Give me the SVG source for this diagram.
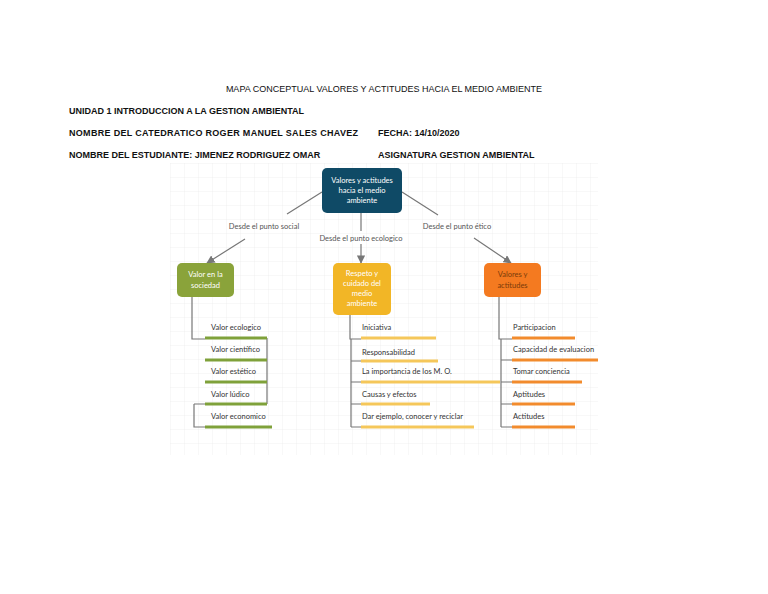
<svg xmlns="http://www.w3.org/2000/svg" width="768" height="594" viewBox="0 0 768 594">
<defs>
<pattern id="g" x="170" y="163" width="14" height="14" patternUnits="userSpaceOnUse"><path d="M0 0H14M0 0V14" stroke="#e6e6e6" stroke-width="0.6" fill="none"/></pattern>
<marker id="a" viewBox="0 0 10 10" refX="9" refY="5" markerWidth="7" markerHeight="7" orient="auto"><path d="M0 0L10 5L0 10z" fill="#777"/></marker>
<style>
.h{font-family:"Liberation Sans",Arial,sans-serif;font-size:9px;fill:#111}
.b{font-weight:bold}
.n{font-family:Lato,"Liberation Sans",sans-serif;font-size:7.5px;fill:#fff;text-anchor:middle}
.l{font-family:Lato,"Liberation Sans",sans-serif;font-size:7.5px;fill:#555;text-anchor:middle}
.t{font-family:Lato,"Liberation Sans",sans-serif;font-size:7.5px;fill:#333}
.c{stroke:#777;stroke-width:1.2;fill:none}
.gb{stroke:#7fa13a;stroke-width:3}
.yb{stroke:#f5c75a;stroke-width:3}
.ob{stroke:#f28b2d;stroke-width:3}
</style>
</defs>
<rect width="768" height="594" fill="#fff"/>
<rect x="170" y="163" width="428" height="292" fill="url(#g)"/>
<text class="h" x="384" y="92" text-anchor="middle">MAPA CONCEPTUAL VALORES Y ACTITUDES HACIA EL MEDIO AMBIENTE</text>
<text class="h b" x="69" y="114">UNIDAD 1 INTRODUCCION A LA GESTION AMBIENTAL</text>
<text class="h b" x="69" y="136" textLength="289">NOMBRE DEL CATEDRATICO ROGER MANUEL SALES CHAVEZ</text>
<text class="h b" x="378" y="136">FECHA: 14/10/2020</text>
<text class="h b" x="69" y="158">NOMBRE DEL ESTUDIANTE: JIMENEZ RODRIGUEZ OMAR</text>
<text class="h b" x="378" y="158">ASIGNATURA GESTION AMBIENTAL</text>
<g id="connectors">
<path class="c" d="M322 192L287 214M245 239L207 263" marker-end="url(#a)"/>
<path class="c" d="M361 213V231M361 244V263" marker-end="url(#a)"/>
<path class="c" d="M402 192L438 215M474 238L511 263" marker-end="url(#a)"/>
<text class="l" x="264" y="229">Desde el punto social</text>
<text class="l" x="361" y="241">Desde el punto ecologico</text>
<text class="l" x="457" y="229">Desde el punto ético</text>
<path class="c" d="M192 297V339H205M267 338V404M194 404V427H205M194 404H205"/>
<path class="c" d="M350 315V339H361M351 339V427M351 361H361M351 382H361M351 404H361M351 427H361"/>
<path class="c" d="M499 297V339H512M501 339V427M501 360H512M501 382H512M501 404H512M501 427H512"/>
</g>
<g id="n0"><rect x="322" y="168" width="80" height="45" rx="5" fill="#0f4a66"/><text class="n" x="362" y="183">Valores y actitudes</text><text class="n" x="362" y="193">hacia el medio</text><text class="n" x="362" y="203">ambiente</text></g>
<g id="n1"><rect x="177" y="263" width="57" height="34" rx="5" fill="#8aa33a"/><text class="n" x="205.5" y="277">Valor en la</text><text class="n" x="205.5" y="288">sociedad</text></g>
<g id="n2"><rect x="333" y="263" width="58" height="52" rx="5" fill="#f2b626"/><text class="n" x="362" y="276">Respeto y</text><text class="n" x="362" y="286">cuidado del</text><text class="n" x="362" y="296">medio</text><text class="n" x="362" y="306">ambiente</text></g>
<g id="n3"><rect x="484" y="263" width="57" height="34" rx="5" fill="#f47a20"/><text class="n" x="512.5" y="277" style="fill:#7a3a0a">Valores y</text><text class="n" x="512.5" y="288" style="fill:#7a3a0a">actitudes</text></g>
<g id="green">
<text class="t" x="211" y="330">Valor ecologico</text><line class="gb" x1="205" y1="338" x2="267" y2="338"/>
<text class="t" x="211" y="352">Valor científico</text><line class="gb" x1="205" y1="360" x2="267" y2="360"/>
<text class="t" x="211" y="374">Valor estético</text><line class="gb" x1="205" y1="382" x2="267" y2="382"/>
<text class="t" x="211" y="397">Valor lúdico</text><line class="gb" x1="205" y1="404" x2="267" y2="404"/>
<text class="t" x="211" y="419">Valor economico</text><line class="gb" x1="205" y1="427" x2="272" y2="427"/>
</g>
<g id="yellow">
<text class="t" x="362" y="330">Iniciativa</text><line class="yb" x1="361" y1="338" x2="436" y2="338"/>
<text class="t" x="362" y="355">Responsabilidad</text><line class="yb" x1="361" y1="361" x2="438" y2="361"/>
<text class="t" x="362" y="374">La importancia de los M. O.</text><line class="yb" x1="361" y1="382" x2="500" y2="382"/>
<text class="t" x="362" y="397">Causas y efectos</text><line class="yb" x1="361" y1="404" x2="430" y2="404"/>
<text class="t" x="362" y="419">Dar ejemplo, conocer y reciclar</text><line class="yb" x1="361" y1="427" x2="474" y2="427"/>
</g>
<g id="orange">
<text class="t" x="513" y="330">Participacion</text><line class="ob" x1="512" y1="338" x2="575" y2="338"/>
<text class="t" x="513" y="352">Capacidad de evaluacion</text><line class="ob" x1="512" y1="360" x2="598" y2="360"/>
<text class="t" x="513" y="374">Tomar conciencia</text><line class="ob" x1="512" y1="382" x2="582" y2="382"/>
<text class="t" x="513" y="397">Aptitudes</text><line class="ob" x1="512" y1="404" x2="575" y2="404"/>
<text class="t" x="513" y="419">Actitudes</text><line class="ob" x1="512" y1="427" x2="575" y2="427"/>
</g>
</svg>
